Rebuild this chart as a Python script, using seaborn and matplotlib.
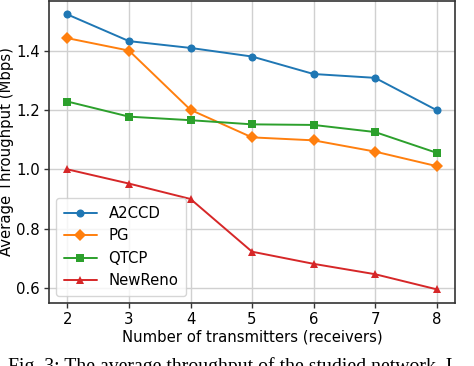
import numpy as np
import pandas as pd
import seaborn as sn
import matplotlib.pyplot as plt

# values
transmitters = [2, 3, 4, 5, 6, 7, 8]
a2ccd = [1.523, 1.433, 1.410, 1.381, 1.322, 1.309, 1.200]
pg = [1.443, 1.401, 1.201, 1.108, 1.098, 1.060, 1.011]
qtcp = [1.229, 1.178, 1.166, 1.152, 1.150, 1.126, 1.056]
newreno = [1.000, 0.952, 0.900, 0.722, 0.681, 0.646, 0.595]
methods = ['A2CCD', 'PG', 'QTCP', 'NewReno']
markers = ['o', 'D', 's', '^']

data = pd.DataFrame({
    'n': transmitters * 4,
    'thr': a2ccd + pg + qtcp + newreno,
    'method': sum([[m] * len(transmitters) for m in methods], []),
})

sn.set_style('ticks')
plt.rcParams['font.family'] = ['DejaVu Sans']
plt.rcParams['text.color'] = 'black'
plt.rcParams['axes.labelcolor'] = 'black'
plt.rcParams['xtick.color'] = 'black'
plt.rcParams['ytick.color'] = 'black'

fs = 10.7
fig = plt.figure(figsize=(4.74, 3.66), dpi=100)
ax = fig.add_axes([0.1034, 0.172, 0.8566, 0.826])

sn.lineplot(data=data, x='n', y='thr', hue='method', style='method',
            markers=markers, dashes=False, palette='tab10', markersize=5.8,
            markeredgewidth=0, linewidth=1.4, ax=ax)

ax.grid(True, color='#d0d0d0', linewidth=1)
ax.set_axisbelow(True)
ax.set_xticks(transmitters)
ax.set_yticks([0.6, 0.8, 1.0, 1.2, 1.4])
ax.tick_params(labelsize=fs, length=3.5, width=1, color='#333333', pad=3)
for s in ax.spines.values():
    s.set_color('#333333')
    s.set_linewidth(1.2)
ax.set_xlabel('Number of transmitters (receivers)', fontsize=fs, labelpad=2)
ax.set_ylabel('Average Throughput (Mbps)', fontsize=fs, labelpad=1.5)
ax.legend(loc='lower left', fontsize=fs, handlelength=2.2, borderpad=0.5,
          labelspacing=0.5, frameon=True)

# the clipped caption under the figure
fig.text(0.017, 0.024, 'Fig. 3: The average throughput of the studied network. I',
         fontsize=14.2, family='Liberation Serif', ha='left', va='top')

fig.savefig('out.png', dpi=100)
